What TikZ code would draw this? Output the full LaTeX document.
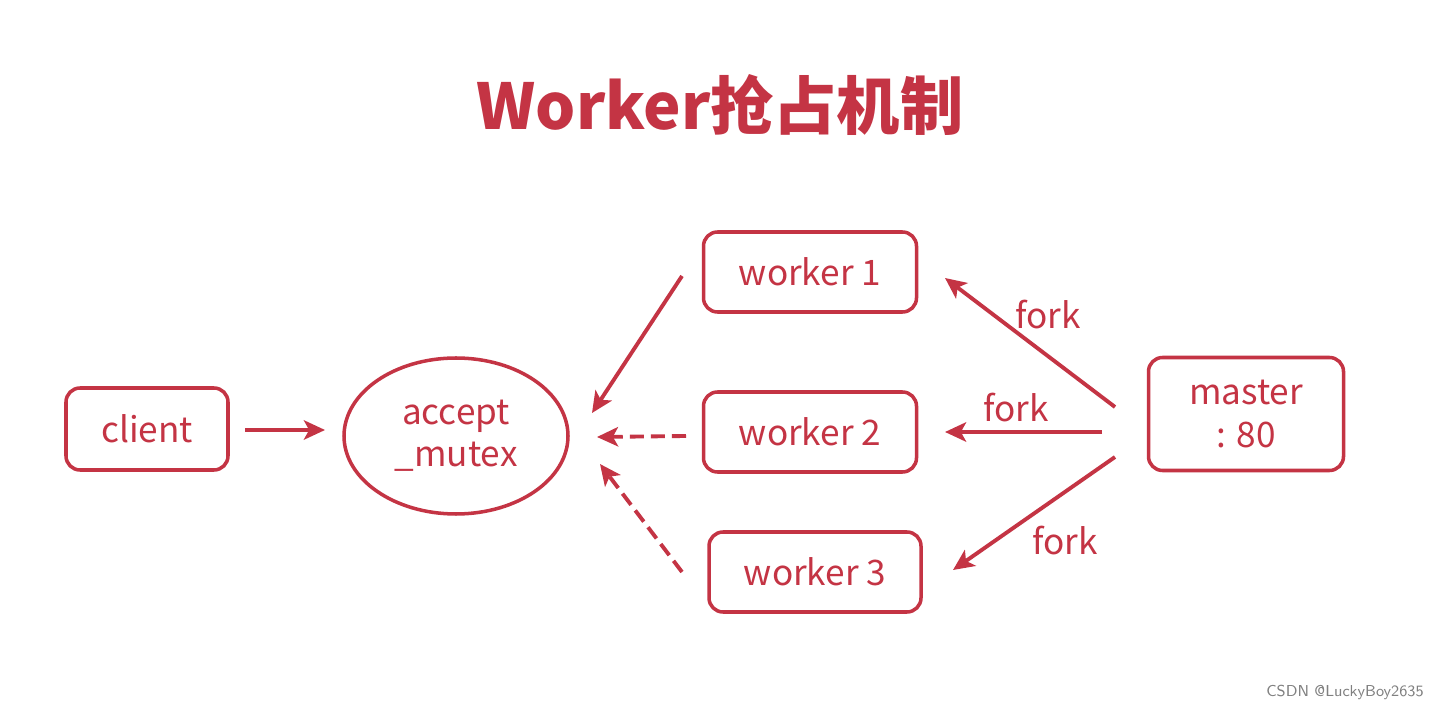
\documentclass[tikz,border=0pt]{standalone}
\usepackage{fontspec}
\setmainfont{Noto Sans CJK SC}
\usetikzlibrary{arrows.meta,shapes.geometric}
\definecolor{rd}{RGB}{196,52,68}
\begin{document}
\begin{tikzpicture}[x=0.02cm,y=-0.02cm,
  box/.style={draw=rd,line width=2pt,rounded corners=8pt,text=rd,font=\fontsize{20}{22}\selectfont},
  arr/.style={draw=rd,line width=2.2pt,-{Stealth[length=12pt,width=11pt,inset=3pt]}},
  darr/.style={arr,dash pattern=on 8pt off 4pt},
  lbl/.style={text=rd,font=\fontsize{20}{22}\selectfont}]
\useasboundingbox[fill=white] (0,0) rectangle (1450,712);
\node[text=rd,font=\fontsize{36}{40}\selectfont\bfseries] (title) at (720,105) {Worker抢占机制};
\node[box,minimum width=162*0.02cm,minimum height=82*0.02cm] (client) at (147,429) {client};
\node[draw=rd,line width=2pt,ellipse,text=rd,minimum width=224*0.02cm,minimum height=156*0.02cm,align=center,font=\fontsize{20}{24}\selectfont] (am) at (456,436) {accept\\\_mutex};
\node[box,minimum width=213*0.02cm,minimum height=80*0.02cm] (w1) at (810,272) {worker 1};
\node[box,minimum width=213*0.02cm,minimum height=80*0.02cm] (w2) at (810,432) {worker 2};
\node[box,minimum width=212*0.02cm,minimum height=80*0.02cm] (w3) at (815,572) {worker 3};
\node[box,minimum width=195*0.02cm,minimum height=113*0.02cm,align=center,font=\fontsize{20}{24}\selectfont] (m) at (1246,414) {master\\: 80};
\coordinate (c1) at (245,430); \coordinate (c2) at (325,430);
\coordinate (a1) at (682,276); \coordinate (b1) at (592,413);
\coordinate (a2) at (686,436); \coordinate (b2) at (597,437);
\coordinate (a3) at (682,572); \coordinate (b3) at (600,464);
\coordinate (m1) at (1115,407); \coordinate (e1) at (945,278);
\coordinate (m2) at (1102,432); \coordinate (e2) at (945,432);
\coordinate (m3) at (1115,457); \coordinate (e3) at (953,570);
\draw[arr] (c1) -- (c2);
\draw[arr] (a1) -- (b1);
\draw[darr] (a2) -- (b2);
\draw[darr] (a3) -- (b3);
\draw[arr] (m1) -- (e1);
\draw[arr] (m2) -- (e2);
\draw[arr] (m3) -- (e3);
\node[lbl] (f1) at (1048,315) {fork};
\node[lbl] (f2) at (1016,408) {fork};
\node[lbl] (f3) at (1065,541) {fork};
\node[text=gray,font=\fontsize{9}{10}\selectfont\sffamily] (wm) at (1345,692) {CSDN @LuckyBoy2635};
\end{tikzpicture}
\end{document}
